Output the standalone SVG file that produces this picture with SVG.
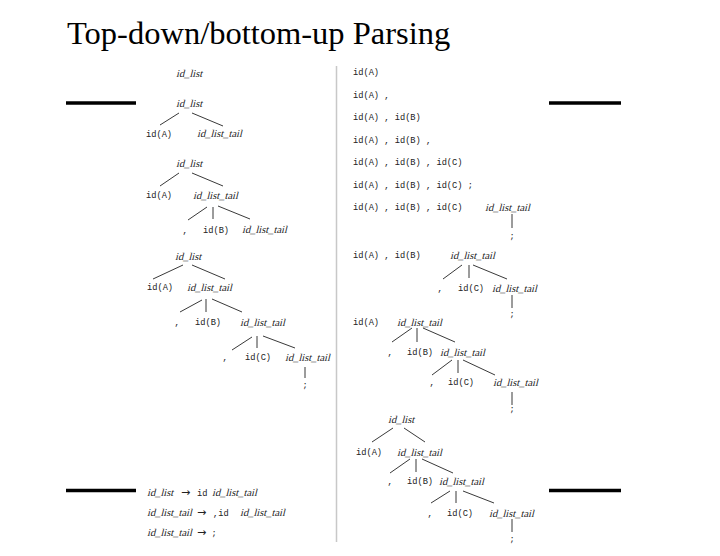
<svg xmlns="http://www.w3.org/2000/svg" width="720" height="556" viewBox="0 0 720 556">
<style>
.title{font-family:"Liberation Serif","Times New Roman",serif;font-size:32.5px;fill:#000}
.it{font-family:"Liberation Serif","Times New Roman",serif;font-size:10.5px;fill:#222}
.mo{font-family:"Liberation Mono","Courier New",monospace;font-size:8.7px;fill:#222}
.mid{text-anchor:middle}
.ar{font-family:"DejaVu Sans",sans-serif;font-size:11px;fill:#222;text-anchor:middle}
.edge line{stroke:#222;stroke-width:0.9}
.bar{stroke:#000;stroke-width:3.5}
.divider{stroke:#c8c8c8;stroke-width:1.5}
</style>
<rect width="720" height="556" fill="#fff"/>
<text class="title" x="67" y="44">Top-down/bottom-up Parsing</text>
<g id="decor">
<line class="bar" x1="66" y1="103" x2="136" y2="103"/>
<line class="bar" x1="549" y1="103" x2="621" y2="103"/>
<line class="bar" x1="66" y1="490.5" x2="136" y2="490.5"/>
<line class="bar" x1="549" y1="490.5" x2="621" y2="490.5"/>
<line class="divider" x1="336.5" y1="66" x2="336.5" y2="542"/>
</g>
<g id="connectors" class="edge">
<line x1="179" y1="113" x2="160" y2="125"/><line x1="192" y1="113" x2="223" y2="126"/>
<line x1="179" y1="173" x2="160" y2="186"/><line x1="192" y1="173" x2="223" y2="186"/>
<line x1="207" y1="207" x2="188" y2="220"/><line x1="213" y1="207" x2="213" y2="219"/><line x1="218" y1="206" x2="250" y2="219"/>
<line x1="183" y1="265" x2="153" y2="279"/><line x1="192" y1="265" x2="225" y2="279"/>
<line x1="202" y1="300" x2="180" y2="312"/><line x1="206" y1="299" x2="206" y2="312"/><line x1="212" y1="299" x2="242" y2="312"/>
<line x1="252" y1="337" x2="232" y2="350"/><line x1="257" y1="336" x2="257" y2="348"/><line x1="263" y1="336" x2="295" y2="348"/>
<line x1="305" y1="367" x2="305" y2="378"/>
<line x1="512" y1="214" x2="512" y2="228"/>
<line x1="462" y1="265" x2="443" y2="279"/><line x1="469" y1="265" x2="469" y2="278"/><line x1="473" y1="265" x2="507" y2="279"/>
<line x1="512" y1="295" x2="512" y2="308"/>
<line x1="412" y1="328" x2="392" y2="342"/><line x1="417" y1="328" x2="417" y2="342"/><line x1="423" y1="328" x2="455" y2="342"/>
<line x1="452" y1="360" x2="432" y2="375"/><line x1="458" y1="360" x2="458" y2="373"/><line x1="463" y1="360" x2="495" y2="375"/>
<line x1="512" y1="392" x2="512" y2="405"/>
<line x1="393" y1="428" x2="372" y2="442"/><line x1="404" y1="428" x2="425" y2="442"/>
<line x1="410" y1="459" x2="390" y2="473"/><line x1="416" y1="459" x2="416" y2="472"/><line x1="422" y1="459" x2="453" y2="473"/>
<line x1="450" y1="491" x2="431" y2="503"/><line x1="456" y1="491" x2="456" y2="503"/><line x1="463" y1="491" x2="494" y2="503"/>
<line x1="512" y1="519" x2="512" y2="532"/>
</g>
<g id="left-start"><text class="it" transform="translate(176 77) skewX(-14)">id_list</text></g>
<g id="left-tree1">
<text class="it" transform="translate(176 107) skewX(-14)">id_list</text>
<text class="mo" x="146" y="136.5">id(A)</text>
<text class="it" transform="translate(197 137) skewX(-14)">id_list_tail</text>
</g>
<g id="left-tree2">
<text class="it" transform="translate(176 167) skewX(-14)">id_list</text>
<text class="mo" x="146" y="198">id(A)</text>
<text class="it" transform="translate(193 199) skewX(-14)">id_list_tail</text>
<text class="mo mid" x="185" y="233">,</text>
<text class="mo" x="203" y="233">id(B)</text>
<text class="it" transform="translate(242 233) skewX(-14)">id_list_tail</text>
</g>
<g id="left-tree3">
<text class="it" transform="translate(175 260) skewX(-14)">id_list</text>
<text class="mo" x="147" y="290">id(A)</text>
<text class="it" transform="translate(187 291) skewX(-14)">id_list_tail</text>
<text class="mo mid" x="177" y="325">,</text>
<text class="mo" x="195" y="325">id(B)</text>
<text class="it" transform="translate(240 326) skewX(-14)">id_list_tail</text>
<text class="mo mid" x="225" y="360">,</text>
<text class="mo" x="245" y="360">id(C)</text>
<text class="it" transform="translate(285 361) skewX(-14)">id_list_tail</text>
<text class="mo mid" x="305" y="388">;</text>
</g>
<g id="grammar">
<text class="it" transform="translate(147 496) skewX(-14)">id_list</text>
<text class="ar" x="185.5" y="496">→</text>
<text class="mo" x="197" y="496">id</text>
<text class="it" transform="translate(212 496) skewX(-14)">id_list_tail</text>
<text class="it" transform="translate(147 516) skewX(-14)">id_list_tail</text>
<text class="ar" x="201.5" y="516">→</text>
<text class="mo" x="213" y="516">,id</text>
<text class="it" transform="translate(240 516) skewX(-14)">id_list_tail</text>
<text class="it" transform="translate(147 536) skewX(-14)">id_list_tail</text>
<text class="ar" x="201.5" y="536">→</text>
<text class="mo mid" x="214" y="536">;</text>
</g>
<g id="right-steps">
<text class="mo" x="353" y="75">id(A)</text>
<text class="mo" x="353" y="97.5">id(A) ,</text>
<text class="mo" x="353" y="120">id(A) , id(B)</text>
<text class="mo" x="353" y="142.5">id(A) , id(B) ,</text>
<text class="mo" x="353" y="165">id(A) , id(B) , id(C)</text>
<text class="mo" x="353" y="187.5">id(A) , id(B) , id(C) ;</text>
</g>
<g id="right-tree7">
<text class="mo" x="353" y="210">id(A) , id(B) , id(C)</text>
<text class="it" transform="translate(485 211) skewX(-14)">id_list_tail</text>
<text class="mo mid" x="512" y="239">;</text>
</g>
<g id="right-tree8">
<text class="mo" x="353" y="258">id(A) , id(B)</text>
<text class="it" transform="translate(450 259) skewX(-14)">id_list_tail</text>
<text class="mo mid" x="440" y="291">,</text>
<text class="mo" x="458" y="291">id(C)</text>
<text class="it" transform="translate(492 292) skewX(-14)">id_list_tail</text>
<text class="mo mid" x="512" y="317">;</text>
</g>
<g id="right-tree9">
<text class="mo" x="353" y="325">id(A)</text>
<text class="it" transform="translate(397 326) skewX(-14)">id_list_tail</text>
<text class="mo mid" x="390" y="355">,</text>
<text class="mo" x="407" y="355">id(B)</text>
<text class="it" transform="translate(440 356) skewX(-14)">id_list_tail</text>
<text class="mo mid" x="432" y="385">,</text>
<text class="mo" x="448" y="385">id(C)</text>
<text class="it" transform="translate(493 386) skewX(-14)">id_list_tail</text>
<text class="mo mid" x="512" y="412">;</text>
</g>
<g id="right-tree10">
<text class="it" transform="translate(388 423) skewX(-14)">id_list</text>
<text class="mo" x="356" y="455">id(A)</text>
<text class="it" transform="translate(397 456) skewX(-14)">id_list_tail</text>
<text class="mo mid" x="390" y="484">,</text>
<text class="mo" x="407" y="484">id(B)</text>
<text class="it" transform="translate(439 485) skewX(-14)">id_list_tail</text>
<text class="mo mid" x="430" y="516">,</text>
<text class="mo" x="447" y="516">id(C)</text>
<text class="it" transform="translate(489 517) skewX(-14)">id_list_tail</text>
<text class="mo mid" x="512" y="542">;</text>
</g>
</svg>
